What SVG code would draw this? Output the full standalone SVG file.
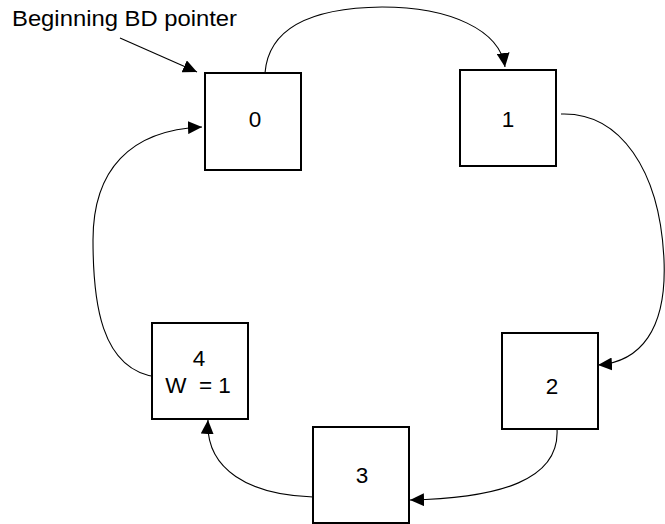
<svg xmlns="http://www.w3.org/2000/svg" width="665" height="524" viewBox="0 0 665 524">
<style>
.box{fill:#fff;stroke:#000;stroke-width:2}
.lbl{font-family:"Liberation Sans",Arial,sans-serif;font-size:22.5px;fill:#000;text-anchor:middle}
.title{font-family:"Liberation Sans",Arial,sans-serif;font-size:22.5px;fill:#000}
.conn{fill:none;stroke:#000;stroke-width:1.1}
</style>
<defs>
<marker id="ah" markerUnits="userSpaceOnUse" markerWidth="14" markerHeight="13" refX="14" refY="6.5" orient="auto">
<path d="M0,0 L14,6.5 L0,13 z" fill="#000"/>
</marker>
</defs>
<rect width="665" height="524" fill="#fff"/>
<g id="connectors">
<line class="conn" x1="120" y1="38" x2="197" y2="72" marker-end="url(#ah)"/>
<path class="conn" d="M265,73 C268,35 300,8 382,7 C450,7 500,30 505,67" marker-end="url(#ah)"/>
<path class="conn" d="M561,114 C620,112 660,170 664,260 C667,330 640,362 598,365" marker-end="url(#ah)"/>
<path class="conn" d="M557,429 C560,480 500,498 410,500" marker-end="url(#ah)"/>
<path class="conn" d="M313,497 C250,495 205,470 208,420" marker-end="url(#ah)"/>
<path class="conn" d="M157,377 C100,370 93,300 93,240 C93,170 130,130 202,127" marker-end="url(#ah)"/>
</g>
<g id="title"><text class="title" x="12" y="26" textLength="225" lengthAdjust="spacingAndGlyphs">Beginning BD pointer</text></g>
<g id="node0"><rect class="box" x="205" y="73" width="96" height="97"/><text class="lbl" x="255" y="127">0</text></g>
<g id="node1"><rect class="box" x="460" y="70" width="96" height="96"/><text class="lbl" x="508" y="127">1</text></g>
<g id="node2"><rect class="box" x="502" y="333" width="96" height="96"/><text class="lbl" x="552" y="394">2</text></g>
<g id="node3"><rect class="box" x="313" y="427" width="96" height="96"/><text class="lbl" x="362" y="483">3</text></g>
<g id="node4"><rect class="box" x="152" y="323" width="96" height="96"/><text class="lbl" x="199" y="366">4</text><text class="lbl" x="198" y="393" xml:space="preserve">W  = 1</text></g>
</svg>
